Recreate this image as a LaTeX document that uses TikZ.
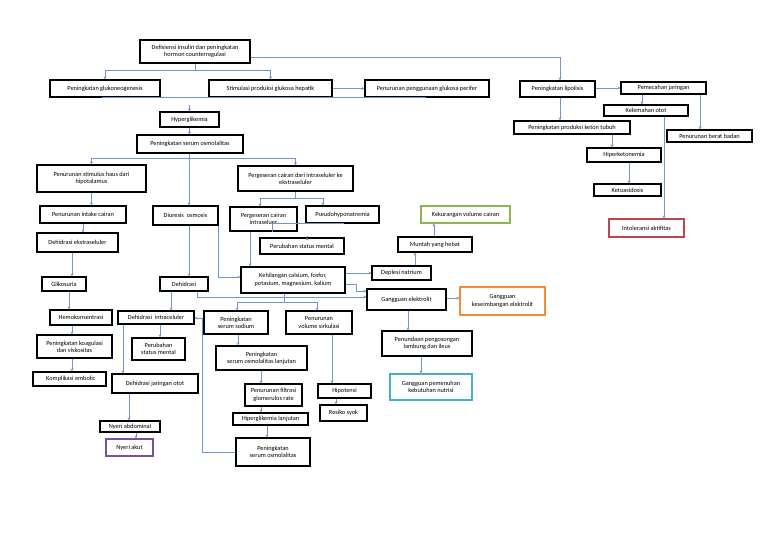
\documentclass[tikz,border=0pt]{standalone}
\usepackage{fontspec}
\setmainfont{Carlito}
\usetikzlibrary{arrows.meta}
\definecolor{ln}{RGB}{110,150,205}
\definecolor{gbox}{RGB}{140,180,80}
\definecolor{obox}{RGB}{240,140,60}
\definecolor{cbox}{RGB}{70,175,200}
\definecolor{rbox}{RGB}{190,70,70}
\definecolor{pbox}{RGB}{120,80,160}
\tikzset{box/.style={draw=black,line width=1.1pt,inner sep=0pt,align=center,font=\fontsize{6.3}{7.3}\selectfont},
ar/.style={draw=ln,line width=0.7pt,-{Stealth[length=3pt,width=3pt]}},
ln/.style={draw=ln,line width=0.7pt}}
\newcommand\B[7][]{\node[box,#1,minimum width={(#5-#3)*1pt},minimum height={(#6-#4)*1pt}] (#2) at ({(#3+#5)/2},{(#4+#6)/2}) {#7};}
\begin{document}
\begin{tikzpicture}[x=1pt,y=-1pt]
\useasboundingbox[fill=white] (0,0) rectangle (768,543);
\B{defi}{140}{40}{250}{63}{Defisiensi insulin dan peningkatan\\hormon counterregulasi}
\B{gluko}{50}{80}{160}{97}{Peningkatan glukoneogenesis}
\B{stim}{209}{80}{332}{97}{Stimulasi produksi glukosa hepatik}
\B{peng}{365}{80}{489}{97}{Penurunan penggunaan glukosa perifer}
\B{hyp}{160}{112}{219}{127}{Hyperglikemia}
\B{osm}{137}{135}{243}{153}{Peningkatan serum osmolalitas}
\B{haus}{37}{165}{146}{192}{Penurunan stimulus haus dari\\hipotalamus}
\B{perg}{238}{166}{353}{191}{Pergeseran cairan dari intraseluler ke\\ekstraseluler}
\B{intake}{40}{206}{126}{223}{Penurunan intake cairan}
\B{diur}{153}{206}{218}{225}{Diuresis \ osmosis}
\B{pci}{230}{207}{297}{231}{Pergeseran cairan\\intraseluer}
\B{pseudo}{306}{206}{379}{223}{Pseudohyponatremia}
\B{psm}{260}{238}{344}{254}{Perubahan status mental}
\B{dek}{37}{233}{118}{252}{Dehidrasi ekstraseluler}
\B{glik}{42}{277}{86}{291}{Glikosuria}
\B{dehi}{160}{277}{208}{291}{Dehidrasi}
\B{kehi}{241}{267}{345}{293}{Kehilangan calsium, fosfor,\\potasium, magnesium, kalium}
\B{depl}{372}{266}{431}{280}{Deplesi natrium}
\B{gel}{367}{289}{446}{310}{Gangguan elektrolit}
\B[draw=obox]{gke}{460}{287}{545}{315}{Gangguan\\keseimbangan elektrolit}
\B{munt}{398}{237}{472}{252}{Muntah yang hebat}
\B[draw=gbox]{kvc}{421}{206}{510}{223}{Kekurangan volume cairan}
\B{hemo}{50}{310}{112}{325}{Hemokonsentrasi}
\B{dint}{118}{311}{194}{324}{Dehidrasi \ intraceluler}
\B{sod}{204}{311}{268}{334}{Peningkatan\\serum sodium}
\B{vol}{286}{311}{352}{334}{Penurunan\\volume sirkulasi}
\B{tund}{382}{331}{472}{356}{Penundaan pengosongan\\lambung dan ileus}
\B{koag}{37}{335}{112}{358}{Peningkatan koagulasi\\dan viskositas}
\B{psm2}{132}{338}{185}{360}{Perubahan\\status mental}
\B{osl}{216}{346}{307}{370}{Peningkatan\\serum osmolalitas lanjutan}
\B[draw=cbox]{gpk}{390}{374}{472}{400}{Gangguan pemenuhan\\kebutuhan nutrisi}
\B{komp}{33}{372}{106}{386}{Komplikasi emboli\rlap{c}}
\B{djo}{112}{374}{198}{393}{Dehidrasi jaringan otot}
\B{filt}{245}{384}{302}{406}{Penurunan filtrasi\\glomerulos rate}
\B{hipo}{318}{384}{371}{398}{Hipotensi}
\B{hgl}{233}{413}{308}{425}{Hiperglikemia lanjutan}
\B{syok}{320}{405}{367}{421}{Resiko syok}
\B{nab}{100}{421}{160}{432}{Nyeri abdominal}
\B[draw=pbox]{nak}{106}{439}{153}{456}{Nyeri akut}
\B{osb}{236}{438}{310}{466}{Peningkatan\\serum osmolalitas}
\B{lipo}{520}{81}{595}{97}{Peningkatan lipolisis}
\B{pem}{621}{82}{706}{94}{Pemecahan jaringan}
\B{kel}{604}{105}{688}{116}{Kelemahan otot}
\B{ket}{514}{121}{630}{134}{Peningkatan produksi keton tubuh}
\B{bb}{667}{130}{752}{142}{Penurunan berat badan}
\B{hk}{587}{148}{661}{162}{Hiperketonemia}
\B{keto}{594}{184}{661}{196}{Ketoasidosis}
\B[draw=rbox]{into}{609}{219}{684}{237}{Intoleransi aktifitas}
% connectors
\draw[ln] (defi.south) -- ++(0,7) coordinate (d1);
\draw[ar] (d1) -| (gluko.north);
\draw[ar] (d1) -| (stim.north);
\draw[ar] (defi.east |- 0,57) -| (lipo.north -| 560,0);
\draw[ar] (stim.east) -- (peng.west);
\draw[ln] (gluko.south -| 102,0) |- (peng.south -| 426,105) -- (peng.south -| 426,0);
\draw[ar] (hyp.north |- 0,105) -- (hyp.north);
\draw[ar] (hyp.south) -- (osm.north -| hyp.south);
\draw[ar] (osm.south -| 189,0) -- (diur.north -| 189,0);
\draw[ln] (haus.north |- 0,158) -- (perg.north |- 0,158);
\draw[ar] (haus.north |- 0,158) -- (haus.north);
\draw[ar] (perg.north |- 0,158) -- (perg.north);
\draw[ar] (haus.south) -- (intake.north -| haus.south);
\draw[ar] (intake.south) -- (dek.north -| intake.south);
\draw[ar] (dek.south -| 72,0) -- (glik.north -| 72,0);
\draw[ar] (glik.south -| 69,0) -- (hemo.north -| 69,0);
\draw[ar] (hemo.south -| 72,0) -- (koag.north -| 72,0);
\draw[ar] (koag.south -| 72,0) -- (komp.north -| 72,0);
\draw[ln] (perg.south) -- ++(0,7) coordinate (p1);
\draw[ar] (p1) -| (pci.north -| 260,0);
\draw[ar] (p1) -| (pseudo.north -| 323,0);
\draw[ar] (pci.south -| 250,0) -- (kehi.north -| 250,0);
\draw[ln] (pci.south -| 272,0) |- (pseudo.south -| 344,235) -- (pseudo.south -| 344,0);
\draw[ar] (psm.north -| 307,235) -- (psm.north -| 307,0);
\draw[ar] (diur.south -| 189,0) -- (dehi.north -| 189,0);
\draw[ar] (diur.south east) |- (kehi.west |- 0,277);
\draw[ar] (dehi.south -| 171,0) -- (dint.north -| 171,0);
\draw[ar] (dehi.south -| 197,0) |- (gel.west |- 0,297);
\draw[ar] (kehi.east |- 0,273) -- (depl.west |- 0,273);
\draw[ar] (kehi.east |- 0,284) -| (356,291) -- (gel.west |- 0,291);
\draw[ln] (kehi.south -| 284,0) -- (284,302) coordinate (k1);
\draw[ar] (k1) -| (sod.north -| 237,0);
\draw[ar] (k1) -| (vol.north -| 317,0);
\draw[ar] (depl.north -| 415,0) -- (munt.south -| 415,0);
\draw[ar] (munt.north -| 434,0) -- (kvc.south -| 434,0);
\draw[ar] (gel.east |- 0,298) -- (gke.west |- 0,298);
\draw[ar] (gel.south -| 408,0) -- (tund.north -| 408,0);
\draw[ar] (tund.south -| 421,0) -- (gpk.north -| 421,0);
\draw[ar] (dint.south -| 160,0) -- (psm2.north -| 160,0);
\draw[ar] (dint.south -| 123,0) -- (djo.north -| 123,0);
\draw[ar] (djo.south -| 129,0) -- (nab.north -| 129,0);
\draw[ar] (nab.south -| 136,0) -- (nak.north -| 136,0);
\draw[ar] (sod.south -| 238,0) -- (osl.north -| 238,0);
\draw[ar] (osl.south -| 261,0) -- (filt.north -| 261,0);
\draw[ar] (filt.south -| 261,0) -- (hgl.north -| 261,0);
\draw[ar] (hgl.south -| 267,0) -- (osb.north -| 267,0);
\draw[ar] (osb.west |- 0,452) -| (202,318) -- (dint.east |- 0,318);
\draw[ar] (vol.south -| 332,0) -- (hipo.north -| 332,0);
\draw[ar] (hipo.south -| 336,0) -- (syok.north -| 336,0);
\draw[ar] (lipo.east |- 0,88) -- (pem.west |- 0,88);
\draw[ar] (lipo.south -| 560,0) -- (ket.north -| 560,0);
\draw[ar] (pem.south -| 642,0) -- (kel.north -| 642,0);
\draw[ar] (pem.south -| 700,0) -- (bb.north -| 700,0);
\draw[ar] (kel.south -| 664,0) -- (into.north -| 664,0);
\draw[ar] (ket.south -| 612,0) -- (hk.north -| 612,0);
\draw[ar] (hk.south -| 629,0) -- (keto.north -| 629,0);
\end{tikzpicture}
\end{document}
